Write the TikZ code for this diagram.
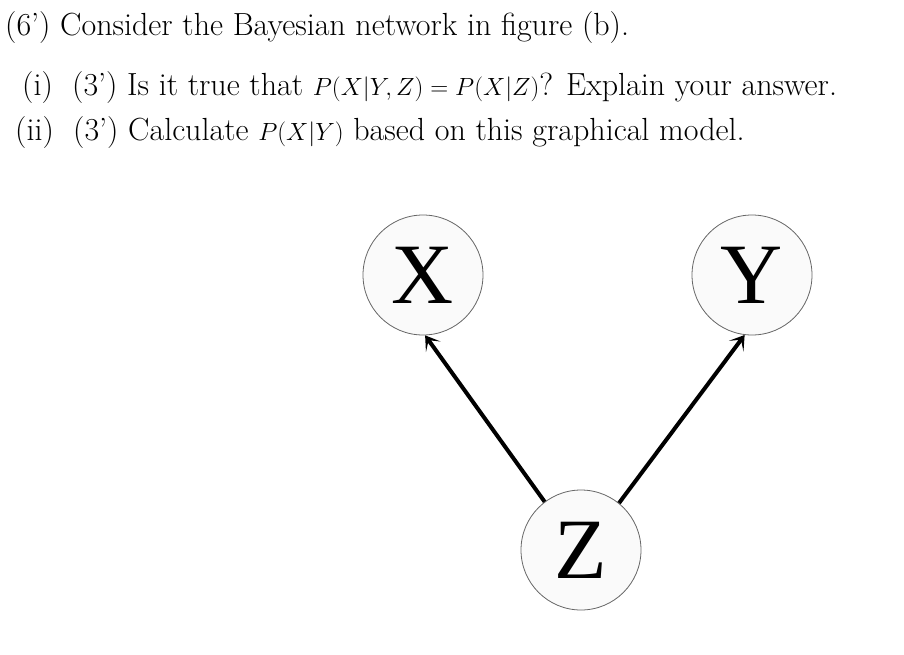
\documentclass[tikz,border=0pt]{standalone}
\usepackage{fontspec}
\newfontfamily\tnr{Liberation Serif}
\usetikzlibrary{arrows.meta}
\begin{document}
\begin{tikzpicture}[x=1pt,y=-1pt,
  txt/.style={anchor=base west,inner sep=0pt,font=\fontsize{32}{38}\selectfont},
  var/.style={circle,draw=black!60,fill=black!2,line width=0.8pt,minimum size=120pt,inner sep=0pt,font=\tnr\fontsize{86}{86}\selectfont},
  edge/.style={line width=4pt,-{Stealth[length=14pt,width=18pt,inset=8pt]}}]
\useasboundingbox (0,0) rectangle (904,654);
\node[txt] (t1) at (5,35) {(6’) Consider the Bayesian network in figure (b).};
\node[txt] (t2) at (22,95) {(i)\ \ (3’) Is it true that $P(X|Y,Z)=P(X|Z)$? Explain your answer.};
\node[txt] (t3) at (15,140) {(ii)\ \ (3’) Calculate $P(X|Y)$ based on this graphical model.};
\node[var] (X) at (423,275) {X};
\node[var] (Y) at (752,275) {Y};
\node[var] (Z) at (581,550) {Z};
\draw[edge] (Z.127) -- (X.272);
\draw[edge] (Z.51) -- (Y.263);
\end{tikzpicture}
\end{document}
